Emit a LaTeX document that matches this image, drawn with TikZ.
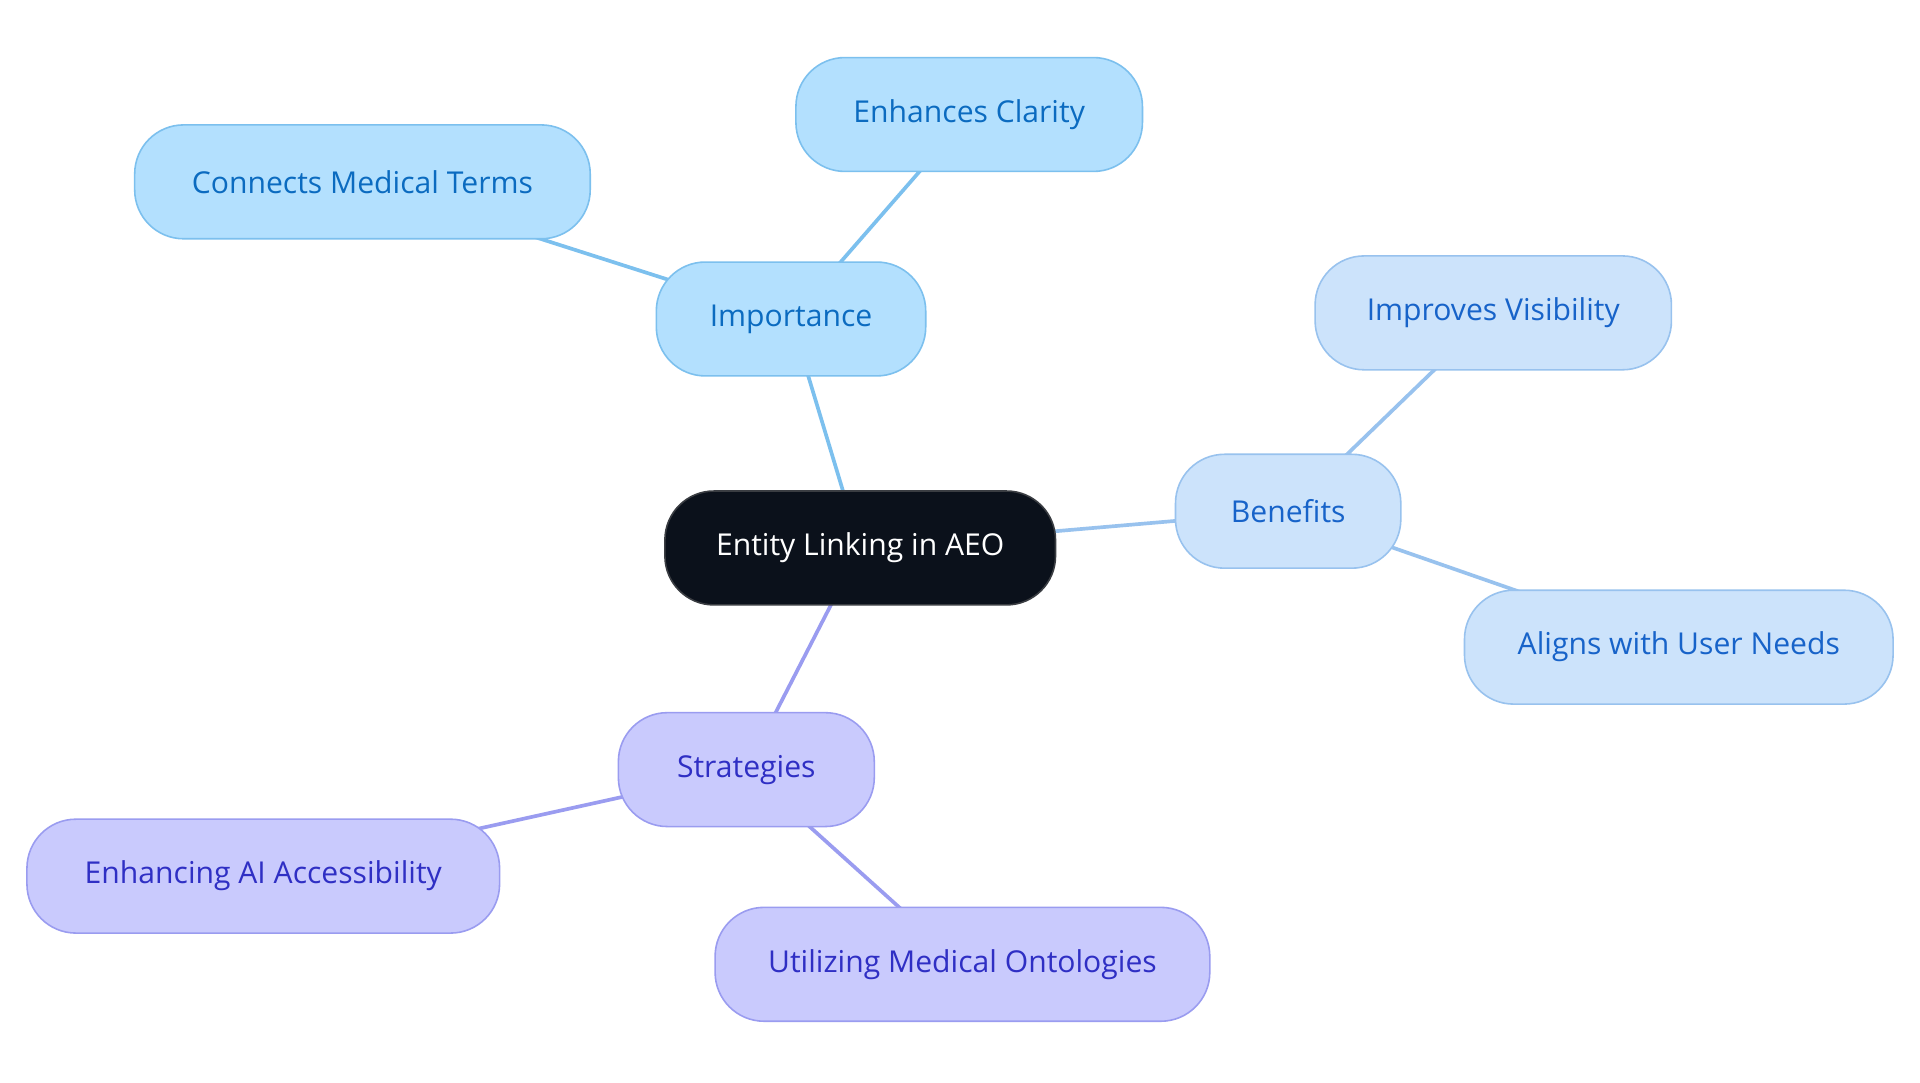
\documentclass[tikz,border=0pt]{standalone}
\usepackage{fontspec}
\setmainfont{Open Sans}
\usetikzlibrary{backgrounds}
\begin{document}
\begin{tikzpicture}[x=1pt,y=-1pt,
  base/.style={rounded corners=40pt, line width=1.3pt, align=center, inner sep=0pt, minimum height=93pt, font=\fontsize{24.6}{30}\selectfont},
  rootnode/.style={base, fill=rootfill, draw=rootdraw, text=white},
  impnode/.style={base, fill=impfill, draw=impdraw, text=imptext},
  bennode/.style={base, fill=benfill, draw=bendraw, text=bentext},
  strnode/.style={base, fill=strfill, draw=strdraw, text=strtext},
  impedge/.style={draw=impdraw, line width=3pt},
  benedge/.style={draw=bendraw, line width=3pt},
  stredge/.style={draw=strdraw, line width=3pt}
]
\definecolor{rootfill}{HTML}{0B111B}
\definecolor{rootdraw}{HTML}{3A3D42}
\definecolor{impfill}{HTML}{B3E0FE}
\definecolor{impdraw}{HTML}{7CC0EE}
\definecolor{imptext}{HTML}{0B6BC0}
\definecolor{benfill}{HTML}{CCE3FB}
\definecolor{bendraw}{HTML}{98C2EE}
\definecolor{bentext}{HTML}{1763C9}
\definecolor{strfill}{HTML}{C9CAFD}
\definecolor{strdraw}{HTML}{9A9CF0}
\definecolor{strtext}{HTML}{2F2FC4}
\useasboundingbox (0,0) rectangle (1568,884);

\node[rootnode, minimum width=319pt] (root) at (702.5,447.5) {Entity Linking in AEO};
\node[impnode, minimum width=220pt] (imp) at (646,260.5) {Importance};
\node[impnode, minimum width=372pt] (cmt) at (296,148.5) {Connects Medical Terms};
\node[impnode, minimum width=283pt] (ecl) at (791.5,93.5) {Enhances Clarity};
\node[bennode, minimum width=184pt] (ben) at (1052,417.5) {Benefits};
\node[bennode, minimum width=291pt] (ivi) at (1219.5,255.5) {Improves Visibility};
\node[bennode, minimum width=350pt] (aun) at (1371,528.5) {Aligns with User Needs};
\node[strnode, minimum width=209pt] (str) at (609.5,628.5) {Strategies};
\node[strnode, minimum width=386pt] (eaa) at (215,715.5) {Enhancing AI Accessibility};
\node[strnode, minimum width=404pt] (umo) at (786,787.5) {Utilizing Medical Ontologies};

\begin{pgfonlayer}{background}
\fill[white] (0,0) rectangle (1568,884);
\draw[impedge] (root.center) -- (imp.center);
\draw[impedge] (imp.center) -- (cmt.center);
\draw[impedge] (imp.center) -- (ecl.center);
\draw[benedge] (root.center) -- (ben.center);
\draw[benedge] (ben.center) -- (ivi.center);
\draw[benedge] (ben.center) -- (aun.center);
\draw[stredge] (root.center) -- (str.center);
\draw[stredge] (str.center) -- (eaa.center);
\draw[stredge] (str.center) -- (umo.center);
\end{pgfonlayer}
\end{tikzpicture}
\end{document}
